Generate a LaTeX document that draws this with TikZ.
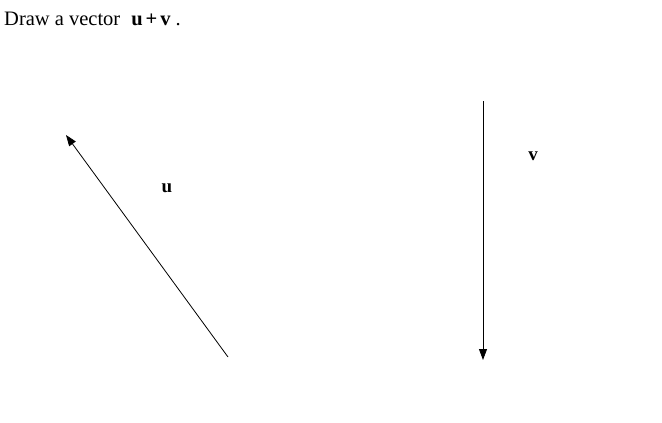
\documentclass[tikz,border=0pt]{standalone}
\usepackage{fontspec}
\setmainfont{Liberation Serif}
\usetikzlibrary{arrows.meta}

\begin{document}
\begin{tikzpicture}[x=1pt, y=-1pt,
    vec/.style = {-{Triangle[length=11pt, width=8pt]}, line width=0.8pt},
    lbl/.style = {font=\fontsize{19}{22}\selectfont\bfseries}]
    \useasboundingbox (0,0) rectangle (662,423);
    \node[anchor=base west, inner sep=0pt, font=\fontsize{20.5}{24}\selectfont] (task) at (4,25) {Draw a vector\hspace{11pt}\textbf{u}\hspace{3pt}\textbf{+}\hspace{3pt}\textbf{v}\hspace{5pt}.};
    % vector u
    \coordinate (u0) at (228,357);
    \coordinate (u1) at (66,135);
    \draw[vec] (u0) -- (u1);
    \node[lbl] (ulbl) at (167,188) {u};
    % vector v
    \coordinate (v0) at (483,101);
    \coordinate (v1) at (483,360);
    \draw[vec] (v0) -- (v1);
    \node[lbl] (vlbl) at (533,156) {v};
\end{tikzpicture}
\end{document}
